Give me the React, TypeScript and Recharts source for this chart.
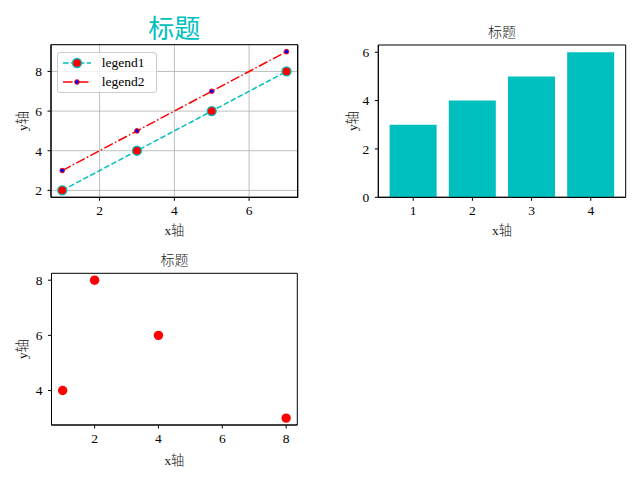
import React from 'react';
import {
  LineChart,
  Line,
  BarChart,
  Bar,
  ScatterChart,
  Scatter,
  XAxis,
  YAxis,
  CartesianGrid,
  Legend,
  ReferenceArea,
} from 'recharts';

const FONT = "'Liberation Serif', 'Noto Sans CJK SC', serif";
const CJK = "'Noto Sans CJK SC', sans-serif";
const CYAN = '#00bfbf';

// subplot 1: two lines
const lineX = [1, 3, 5, 7];
const line1Y = [2, 4, 6, 8];
const line2Y = [3, 5, 7, 9];
const lineXTicks = [2, 4, 6];
const lineYTicks = [2, 4, 6, 8];
const rightTicks = [0, 0.2, 0.4, 0.6, 0.8, 1.0];
const lineXDomain = [0.7, 7.3];
const lineYDomain = [1.65, 9.35];

// subplot 2: bars
const barCats = [1, 2, 3, 4];
const barVals = [3, 4, 5, 6];
const barYTicks = [0, 2, 4, 6];
const barXDomain = [0.41, 4.59];
const barYDomain = [0, 6.3];

// subplot 3: scatter
const scatterX = [1, 2, 4, 8];
const scatterY = [4, 8, 6, 3];
const scatterXTicks = [2, 4, 6, 8];
const scatterYTicks = [4, 6, 8];
const scatterXDomain = [0.65, 8.35];
const scatterYDomain = [2.75, 8.25];

const lineData = lineX.map((x, i) => ({ x, y1: line1Y[i], y2: line2Y[i] }));
const barData = barCats.map((c, i) => ({ c, v: barVals[i] }));
const scatterData = scatterX.map((x, i) => ({ x, y: scatterY[i] }));

const lineSeries = [
  { key: 'y1', name: 'legend1', stroke: CYAN, dash: '5.55 2.4', r: 4.5, fill: 'red', edge: CYAN, edgeWidth: 1.3 },
  { key: 'y2', name: 'legend2', stroke: 'red', dash: '9.6 2.4 1.5 2.4', r: 2.3, fill: 'blue', edge: 'red', edgeWidth: 1 },
];

const tickStyle = { fill: '#000', fontSize: 13.5, fontFamily: FONT };
const labelStyle = { fill: '#111', fontSize: 13.2, fontFamily: FONT, fontWeight: 300 };
const axisCommon = {
  tick: tickStyle,
  tickSize: 3.5,
  tickLine: { stroke: '#000' },
  axisLine: { stroke: '#000' },
};

const yLabel = (offset: number) => ({
  value: 'y轴',
  angle: -90,
  position: 'insideLeft' as const,
  offset,
  style: { ...labelStyle, textAnchor: 'middle' as const },
});

const xLabel = (offset: number) => ({
  value: 'x轴',
  position: 'insideBottom' as const,
  offset,
  style: labelStyle,
});

// box around the axes, spanning the full axis domains
const frame = (xd: number[], yd: number[], yAxisId?: string) => (
  <ReferenceArea
    x1={xd[0]}
    x2={xd[1]}
    y1={yd[0]}
    y2={yd[1]}
    {...(yAxisId ? { yAxisId } : {})}
    fill="none"
    fillOpacity={0}
    stroke="#000"
    strokeWidth={1}
    ifOverflow="visible"
  />
);

const LegendBox = () => (
  <div
    style={{
      boxSizing: 'border-box',
      width: 100,
      height: 41,
      border: '1px solid #cccccc',
      borderRadius: 3,
      background: 'rgba(255,255,255,0.8)',
      padding: '0.8px 0 1.4px 0',
    }}
  >
    {lineSeries.map((s) => (
      <div key={s.key} style={{ display: 'flex', alignItems: 'center', height: 18.4 }}>
        <svg width={28} height={12} style={{ marginLeft: 4.4 }}>
          <line x1={0} y1={6} x2={28} y2={6} stroke={s.stroke} strokeWidth={1.5} strokeDasharray={s.dash} />
          <circle cx={14} cy={6} r={s.r} fill={s.fill} stroke={s.edge} strokeWidth={s.edgeWidth} />
        </svg>
        <span style={{ marginLeft: 11, fontSize: 13.5, fontFamily: FONT, color: '#000', lineHeight: '14px' }}>
          {s.name}
        </span>
      </div>
    ))}
  </div>
);

const titleStyle = (left: number, top: number, width: number, size: number, color: string, weight: number) => ({
  position: 'absolute' as const,
  left,
  top,
  width,
  textAlign: 'center' as const,
  fontSize: size,
  lineHeight: `${size}px`,
  fontFamily: CJK,
  fontWeight: weight,
  color,
});

export default function App() {
  return (
    <div style={{ position: 'absolute', left: 0, top: 0, width: 640, height: 480, background: '#fff' }}>
      <div style={{ position: 'absolute', left: 0, top: 0 }}>
        <LineChart width={330} height={240} data={lineData} margin={{ top: 44.7, right: 0, bottom: 0, left: 0 }}>
          <CartesianGrid yAxisId="left" stroke="#b0b0b0" strokeWidth={0.8} />
          <XAxis
            dataKey="x"
            type="number"
            domain={lineXDomain}
            ticks={lineXTicks}
            allowDataOverflow
            height={42.7}
            tickMargin={5}
            label={xLabel(5)}
            {...axisCommon}
          />
          <YAxis
            yAxisId="left"
            type="number"
            domain={lineYDomain}
            ticks={lineYTicks}
            allowDataOverflow
            width={51}
            tickMargin={5.5}
            label={yLabel(22)}
            {...axisCommon}
          />
          <YAxis
            yAxisId="right"
            orientation="right"
            type="number"
            domain={[0, 1]}
            ticks={rightTicks}
            tickFormatter={(v: number) => v.toFixed(1)}
            width={32.3}
            tickMargin={5}
            {...axisCommon}
          />
          {frame(lineXDomain, lineYDomain, 'left')}
          {lineSeries.map((s) => (
            <Line
              key={s.key}
              yAxisId="left"
              dataKey={s.key}
              name={s.name}
              type="linear"
              stroke={s.stroke}
              strokeWidth={1.5}
              strokeDasharray={s.dash}
              isAnimationActive={false}
              dot={(p: any) => (
                <circle
                  key={`${s.key}-${p.index}`}
                  cx={p.cx}
                  cy={p.cy}
                  r={s.r}
                  fill={s.fill}
                  stroke={s.edge}
                  strokeWidth={s.edgeWidth}
                />
              )}
              activeDot={false}
            />
          ))}
          <Legend
            layout="vertical"
            align="center"
            verticalAlign="middle"
            wrapperStyle={{ left: 57.3, top: 52.3, width: 'auto' }}
            content={() => <LegendBox />}
          />
        </LineChart>
      </div>
      <div style={titleStyle(51, 13.7, 246.7, 26, CYAN, 400)}>标题</div>

      <div style={{ position: 'absolute', left: 330, top: 0 }}>
        <BarChart width={310} height={240} data={barData} margin={{ top: 45, right: 14.3, bottom: 0, left: 0 }}>
          <XAxis
            dataKey="c"
            type="number"
            domain={barXDomain}
            ticks={barCats}
            allowDataOverflow
            height={42.7}
            tickMargin={5}
            label={xLabel(5)}
            {...axisCommon}
          />
          <YAxis
            type="number"
            domain={barYDomain}
            ticks={barYTicks}
            allowDataOverflow
            width={48.3}
            tickMargin={5.5}
            label={yLabel(22.7)}
            {...axisCommon}
          />
          <Bar dataKey="v" fill={CYAN} barSize={47} isAnimationActive={false} />
          {frame(barXDomain, barYDomain)}
        </BarChart>
      </div>
      <div style={titleStyle(378.3, 24.3, 247.4, 14, '#222', 300)}>标题</div>

      <div style={{ position: 'absolute', left: 0, top: 240 }}>
        <ScatterChart width={330} height={240} margin={{ top: 33.3, right: 32.7, bottom: 0, left: 0 }}>
          <XAxis
            dataKey="x"
            type="number"
            domain={scatterXDomain}
            ticks={scatterXTicks}
            allowDataOverflow
            height={55}
            tickMargin={5}
            label={xLabel(15.5)}
            {...axisCommon}
          />
          <YAxis
            dataKey="y"
            type="number"
            domain={scatterYDomain}
            ticks={scatterYTicks}
            allowDataOverflow
            width={51.5}
            tickMargin={5.5}
            label={yLabel(22.7)}
            {...axisCommon}
          />
          {frame(scatterXDomain, scatterYDomain)}
          <Scatter
            data={scatterData}
            isAnimationActive={false}
            shape={(p: any) => <circle cx={p.cx} cy={p.cy} r={4.7} fill="red" />}
          />
        </ScatterChart>
      </div>
      <div style={titleStyle(51.5, 251.9, 245.8, 14, '#222', 300)}>标题</div>
    </div>
  );
}
